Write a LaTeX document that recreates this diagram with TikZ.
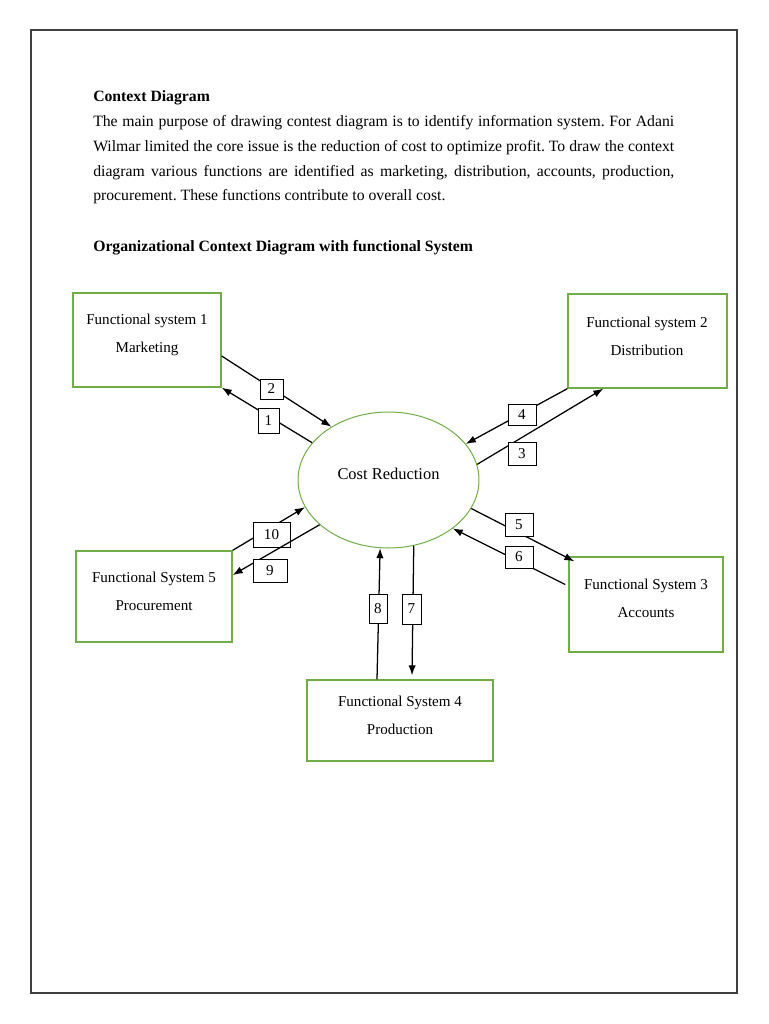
\documentclass[tikz,border=0pt]{standalone}
\usepackage{fontspec}
\setmainfont{Liberation Serif}
\frenchspacing
\usetikzlibrary{arrows,arrows.meta,shapes,calc}
\definecolor{boxgreen}{RGB}{112,173,71}
\tikzset{
  fsys/.style={draw=boxgreen,line width=1pt,rectangle,inner sep=0pt},
  ftext/.style={align=center,inner sep=0pt,font=\fontsize{11.3}{21}\selectfont},
  flow/.style={->,>={Latex[length=7.5pt,width=5.5pt]},line width=0.95pt},
  num/.style 2 args={draw,fill=white,line width=0.6pt,inner sep=0pt,
    minimum width=#1pt,minimum height=#2pt,font=\fontsize{11.3}{13}\selectfont},
  head/.style={anchor=base west,inner sep=0pt,font=\fontsize{11.8}{14}\selectfont\bfseries},
  para/.style={anchor=base west,inner sep=0pt,text width=435.75pt,align=justify,
    font=\fontsize{11.8}{18.6}\selectfont}
}
\begin{document}
\begin{tikzpicture}[x=0.75pt,y=-0.75pt]
\useasboundingbox (0,0) rectangle (768,1024);
\draw[line width=1.1pt,black!75] (31,30) rectangle (737,993);

\node[head] (T1) at (93,101) {Context Diagram};
\node[para] (P1) at (93,126.5) {The main purpose of drawing contest diagram is to identify information system. For Adani\linebreak
Wilmar limited the core issue is the reduction of cost to optimize profit. To draw the context\linebreak
diagram various functions are identified as marketing, distribution, accounts, production,\linebreak
procurement. These functions contribute to overall cost.};
\node[head] (T2) at (93,251) {Organizational Context Diagram with functional System};

% the functional systems
\node (F1) at (147,340)[fsys,minimum width=111pt,minimum height=70.5pt] {};
\node (F2) at (647.5,341)[fsys,minimum width=119.25pt,minimum height=70.5pt] {};
\node (F3) at (646,604.5)[fsys,minimum width=115.5pt,minimum height=71.25pt] {};
\node (F4) at (400,720.5)[fsys,minimum width=139.5pt,minimum height=60.75pt] {};
\node (F5) at (154,596.5)[fsys,minimum width=117pt,minimum height=68.25pt] {};
\node (F1t) at (147,335)[ftext] {Functional system 1\\Marketing};
\node (F2t) at (647,336.5)[ftext] {Functional system 2\\Distribution};
\node (F3t) at (646,598.5)[ftext] {Functional System 3\\Accounts};
\node (F4t) at (400,715.5)[ftext] {Functional System 4\\Production};
\node (F5t) at (154,591.5)[ftext] {Functional System 5\\Procurement};

% cost reduction
\node (CR) at (388.5,480)[draw=boxgreen,line width=0.75pt,ellipse,minimum width=135.75pt,minimum height=102pt,inner sep=0pt] {};
\node (CRt) at (388.5,474)[inner sep=0pt,font=\fontsize{12.35}{15}\selectfont] {Cost Reduction};

\draw [flow] ($(F1.east)+(0,16)$) -- (CR.137) node[num={17.25}{15}] at (271.5,389) {2};
\draw [flow] (CR.154) -- (F1.south east) node[num={15.75}{18.75}] at (268.5,420.5) {1};
\draw [flow] (F2.south west) -- (CR.25) node[num={21}{15.75}] at (522,414.5) {4};
\draw [flow] (CR.10) -- ($(F2.south west)+(36,0)$) node[num={21}{17.25}] at (522,453.5) {3};
\draw [flow] (CR.-19) -- ($(F3.north west)+(6,5)$) node[num={21}{17.25}] at (519,524.5) {5};
\draw [flow] ($(F3.west)+(-3,-20)$) -- (CR.-37) node[num={21}{16.5}] at (519,557) {6};
\draw [flow] ($(F4.north)+(-23,0)$) -- (CR.-97) node[num={13.5}{21.75}] at (378,608.5) {8};
\draw [flow] (CR.-69) -- ($(F4.north)+(12,-4)$) node[num={14.25}{22.5}] at (411.5,609) {7};
\draw [flow] (F5.north east) -- (CR.198) node[num={27.75}{18.75}] at (271.5,534.5) {10};
\draw [flow] (CR.213) -- ($(F5.east)+(0,-21.5)$) node[num={25.5}{17.25}] at (270,570.5) {9};
\end{tikzpicture}
\end{document}
